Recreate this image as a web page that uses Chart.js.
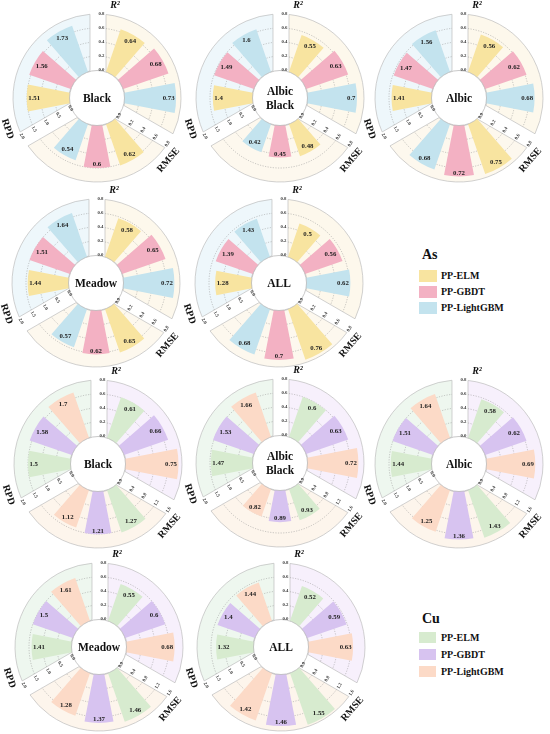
<!DOCTYPE html>
<html>
<head>
<meta charset="utf-8">
<title>As / Cu radial bars</title>
<script src="https://cdn.jsdelivr.net/npm/chart.js@4.4.1/dist/chart.umd.min.js"></script>
<style>
  html, body { margin: 0; padding: 0; background: #fff; }
  #fig { position: relative; width: 550px; height: 734px; overflow: hidden; font-family: "Liberation Serif", "Times New Roman", serif; color: #111; }
  #fig canvas { position: absolute; }
  .legTitle { position: absolute; font-weight: bold; font-size: 14px; line-height: 14px; }
  .legSwatch { position: absolute; }
  .legText { position: absolute; font-weight: bold; font-size: 10px; white-space: nowrap; }
</style>
</head>
<body>
<div id="fig"></div>
<script>
const soils = ['Black', 'Albic Black', 'Albic', 'Meadow', 'ALL'];
const models = ['PP-ELM', 'PP-GBDT', 'PP-LightGBM'];
const metrics = ['R²', 'RMSE', 'RPD'];

// one row per soil: [PP-ELM, PP-GBDT, PP-LightGBM]
const asR2 = [[0.64, 0.68, 0.73], [0.55, 0.63, 0.7], [0.56, 0.62, 0.68], [0.58, 0.65, 0.72], [0.5, 0.56, 0.62]];
const asRMSE = [[0.62, 0.6, 0.54], [0.48, 0.45, 0.42], [0.75, 0.72, 0.68], [0.65, 0.62, 0.57], [0.76, 0.7, 0.68]];
const asRPD = [[1.51, 1.56, 1.73], [1.4, 1.49, 1.6], [1.41, 1.47, 1.56], [1.44, 1.51, 1.64], [1.28, 1.39, 1.43]];
const cuR2 = [[0.61, 0.66, 0.75], [0.6, 0.63, 0.72], [0.58, 0.62, 0.69], [0.55, 0.6, 0.68], [0.52, 0.59, 0.63]];
const cuRMSE = [[1.27, 1.21, 1.12], [0.93, 0.89, 0.82], [1.43, 1.36, 1.25], [1.46, 1.37, 1.28], [1.55, 1.46, 1.42]];
const cuRPD = [[1.5, 1.58, 1.7], [1.47, 1.53, 1.66], [1.44, 1.51, 1.64], [1.41, 1.5, 1.61], [1.32, 1.4, 1.44]];

const r2Ticks = [0, 0.2, 0.4, 0.6, 0.8];
const asRmseTicks = [0, 0.2, 0.4, 0.6, 0.8];
const cuRmseTicks = [0, 0.4, 0.8, 1.2, 1.6];
const rpdTicks = [0, 0.5, 1.0, 1.5, 2.0];

const asColors = ['#f8e4a0', '#f3b1c3', '#c3e3ee'];
const cuColors = ['#d7ebcf', '#d7c3f0', '#fcdac7'];
const asSectorBg = ['#fdf8ec', '#fdf8ee', '#eef7fb'];
const cuSectorBg = ['#f7f0fc', '#fdf5ec', '#eef7ef'];

// chart centres on the page
const asCenters = [[97, 98], [280, 98], [459, 98], [96, 283], [279, 283]];
const cuCenters = [[98, 464], [280, 463], [459, 464], [99, 647], [281, 647]];

const SIZE = 200;
const RAD = Math.PI / 180;
const hole = 0.5;                       // value 0 sits at a third of the radius
const scaleIds = ['r2', 'rmse', 'rpd'];
const sectorStart = [0, 120, 240];
const slotAngles = [19, 22, 8, 22, 8, 22, 19];
const slotLabels = ['', models[0], '', models[1], '', models[2], ''];
const clear = 'rgba(0,0,0,0)';
const edgeIn = 9, edgeOut = 7, tickOff = 4.5;
const SERIF = '"Liberation Serif", "Times New Roman", serif';

const fig = document.getElementById('fig');

// point at angle theta (deg, clockwise from top), radius r, shifted d along the tangent
function at(cx, cy, theta, r, d) {
  const a = theta * RAD;
  return [cx + r * Math.sin(a) + d * Math.cos(a), cy - r * Math.cos(a) + d * Math.sin(a)];
}
const cang = th => (th - 90) * RAD;
function span(A, r) {
  return [A + Math.asin(edgeIn / r) / RAD, A + 120 - Math.asin(edgeOut / r) / RAD];
}

function sectorPlugin(soil, ticks, bgs) {
  return {
    id: 'sectores',
    beforeDatasetsDraw(chart) {
      const ctx = chart.ctx;
      scaleIds.forEach((id, k) => {
        const sc = chart.scales[id];
        const A = sectorStart[k];
        const r0 = sc.getDistanceFromCenterForValue(0);
        const R = sc.getDistanceFromCenterForValue(sc.max);
        const [a0, a1] = span(A, R);
        const [b0, b1] = span(A, r0);
        ctx.save();
        ctx.beginPath();
        ctx.arc(sc.xCenter, sc.yCenter, R, cang(a0), cang(a1));
        ctx.arc(sc.xCenter, sc.yCenter, r0, cang(b1), cang(b0), true);
        ctx.closePath();
        ctx.fillStyle = bgs[k];
        ctx.fill();
        ctx.strokeStyle = '#bdbdbd';
        ctx.lineWidth = 0.7;
        ctx.stroke();
        // dotted rings
        ctx.setLineDash([1.2, 1.4]);
        ctx.strokeStyle = '#999';
        ctx.lineWidth = 0.55;
        ticks[k].slice(1, -1).forEach(t => {
          const r = sc.getDistanceFromCenterForValue(t);
          const [g0, g1] = span(A, r);
          ctx.beginPath();
          ctx.arc(sc.xCenter, sc.yCenter, r, cang(g0), cang(g1));
          ctx.stroke();
        });
        ctx.restore();
      });
    },
    afterDatasetsDraw(chart) {
      const ctx = chart.ctx;
      const sc0 = chart.scales.r2;
      const cx = sc0.xCenter, cy = sc0.yCenter;
      const r0 = sc0.getDistanceFromCenterForValue(0);
      ctx.save();
      // white hub
      ctx.beginPath();
      ctx.arc(cx, cy, r0 - 0.5, 0, 2 * Math.PI);
      ctx.fillStyle = '#fff';
      ctx.fill();
      ctx.strokeStyle = '#b0b0b0';
      ctx.lineWidth = 0.7;
      ctx.stroke();

      ctx.textAlign = 'center';
      ctx.textBaseline = 'middle';

      // hub label
      ctx.fillStyle = '#111';
      ctx.font = 'bold 11.5px ' + SERIF;
      const lines = soil.split(' ');
      lines.forEach((ln, i) => ctx.fillText(ln, cx, cy + 1 + (i - (lines.length - 1) / 2) * 14));

      // bar values
      ctx.font = 'bold 6.8px ' + SERIF;
      ctx.fillStyle = '#1e1e1e';
      chart.data.datasets.forEach((ds, k) => {
        chart.getDatasetMeta(k).data.forEach((arc, i) => {
          if (i % 2 === 0) return;
          const txt = String(ds.data[i]);
          const m = (arc.startAngle + arc.endAngle) / 2;
          const w = ctx.measureText(txt).width, h = 5;
          const ext = Math.abs(Math.cos(m)) * w / 2 + Math.abs(Math.sin(m)) * h / 2;
          const r = arc.outerRadius - 1.5 - ext;
          ctx.fillText(txt, arc.x + r * Math.cos(m), arc.y + r * Math.sin(m) + 0.5);
        });
      });

      // axis ticks and titles
      scaleIds.forEach((id, k) => {
        const sc = chart.scales[id];
        const A = sectorStart[k];
        const rot = k === 0 ? 0 : (A - 180) * RAD;
        ctx.font = 'bold 4.8px ' + SERIF;
        ctx.fillStyle = '#3a3a3a';
        ticks[k].forEach(t => {
          const r = sc.getDistanceFromCenterForValue(t);
          const [x, y] = at(sc.xCenter, sc.yCenter, A, r, tickOff);
          ctx.save();
          ctx.translate(x, y);
          ctx.rotate(rot);
          ctx.fillText(t.toFixed(1), 0, 0);
          ctx.restore();
        });
        const [tx, ty] = at(sc.xCenter, sc.yCenter, A, 93, 18);
        ctx.save();
        ctx.translate(tx, ty);
        ctx.rotate(k === 0 ? 0 : (A + 11 - 180) * RAD);
        ctx.font = (k === 0 ? 'italic bold 10px ' : 'bold 10px ') + SERIF;
        ctx.fillStyle = '#111';
        ctx.fillText(metrics[k], 0, 0);
        ctx.restore();
      });
      ctx.restore();
    }
  };
}

function radialChart(soil, center, values, ticks, colors, bgs) {
  const cv = document.createElement('canvas');
  cv.width = SIZE;
  cv.height = SIZE;
  cv.style.left = (center[0] - SIZE / 2) + 'px';
  cv.style.top = (center[1] - SIZE / 2) + 'px';
  fig.appendChild(cv);

  const scales = {};
  scaleIds.forEach((id, k) => {
    const max = ticks[k][ticks[k].length - 1];
    scales[id] = { type: 'radialLinear', axis: 'r', display: false, startAngle: sectorStart[k], min: -max * hole, max: max };
  });

  const datasets = values.map((vals, k) => ({
    rAxisID: scaleIds[k],
    data: [0, vals[0], 0, vals[1], 0, vals[2], 0],
    backgroundColor: [clear, colors[0], clear, colors[1], clear, colors[2], clear],
    borderWidth: 0,
    angle: c => slotAngles[c.dataIndex]
  }));

  return new Chart(cv, {
    type: 'polarArea',
    data: { labels: slotLabels, datasets: datasets },
    options: {
      responsive: false,
      animation: false,
      events: [],
      layout: { padding: 16 },
      plugins: { legend: { display: false }, tooltip: { enabled: false } },
      scales: scales
    },
    plugins: [sectorPlugin(soil, ticks, bgs)]
  });
}

soils.forEach((soil, i) => {
  radialChart(soil, asCenters[i], [asR2[i], asRMSE[i], asRPD[i]], [r2Ticks, asRmseTicks, rpdTicks], asColors, asSectorBg);
  radialChart(soil, cuCenters[i], [cuR2[i], cuRMSE[i], cuRPD[i]], [r2Ticks, cuRmseTicks, rpdTicks], cuColors, cuSectorBg);
});

function legend(title, titleTop, rowTops, colors, sw) {
  const t = document.createElement('div');
  t.className = 'legTitle';
  t.textContent = title;
  t.style.left = '422px';
  t.style.top = titleTop + 'px';
  fig.appendChild(t);
  models.forEach((m, i) => {
    const s = document.createElement('div');
    s.className = 'legSwatch';
    s.style.cssText = `left:419px;top:${rowTops[i]}px;width:${sw[0]}px;height:${sw[1]}px;background:${colors[i]}`;
    fig.appendChild(s);
    const l = document.createElement('div');
    l.className = 'legText';
    l.textContent = m;
    l.style.cssText = `left:441px;top:${rowTops[i]}px;line-height:${sw[1]}px`;
    fig.appendChild(l);
  });
}
legend('As', 247.5, [270, 286, 302], asColors, [18, 12]);
legend('Cu', 611.5, [632, 649, 666], cuColors, [17, 11]);
</script>
</body>
</html>
